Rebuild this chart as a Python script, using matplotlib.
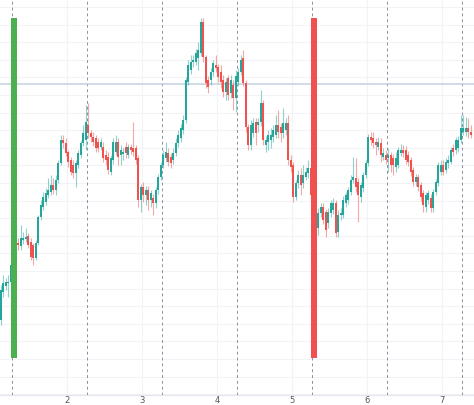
import numpy as np
import matplotlib
matplotlib.use("Agg")
import matplotlib.pyplot as plt

# candles, 30 per day, first one at day 1.12
start_day = 1.12
per_day = 30

opens = [80, 108, 114, 117, 118, 135, 153, 157, 154, 160, 161, 164, 158, 155, 142, 157, 183, 193, 198, 205,
         208, 215, 210, 220, 237, 260, 257, 248, 240, 235, 227, 235, 245, 257, 260, 275, 267, 263, 262, 258,
         253, 253, 245, 243, 228, 240, 248, 258, 245, 246, 253, 245, 253, 252, 252, 242, 200, 213, 205, 210,
         200, 202, 197, 210, 223, 235, 242, 247, 243, 240, 247, 257, 262, 270, 280, 318, 330, 338, 338, 342,
         347, 378, 343, 320, 320, 328, 335, 333, 328, 320, 308, 322, 307, 315, 302, 318, 328, 342, 317, 273,
         255, 267, 278, 275, 278, 297, 255, 258, 260, 263, 265, 275, 273, 267, 270, 277, 240, 235, 203, 217,
         225, 217, 223, 227, 232, 205, 177, 172, 187, 193, 188, 177, 187, 190, 197, 168, 185, 185, 197, 200,
         208, 220, 222, 218, 203, 212, 225, 237, 263, 262, 258, 253, 257, 243, 245, 242, 245, 242, 233, 235,
         247, 250, 250, 245, 240, 230, 218, 223, 215, 207, 193, 200, 202, 192, 208, 217, 228, 235, 230, 237,
         238, 252, 250, 252, 260, 268, 268, 272, 268]
closes = [110, 117, 118, 118, 135, 150, 165, 155, 162, 162, 163, 155, 143, 142, 157, 183, 195, 203, 207, 210,
          215, 210, 220, 237, 260, 257, 247, 238, 228, 227, 237, 247, 257, 267, 278, 267, 263, 258, 252, 252,
          258, 242, 240, 230, 242, 258, 258, 243, 250, 248, 247, 253, 250, 248, 240, 200, 213, 205, 210, 200,
          207, 197, 210, 223, 235, 245, 248, 238, 237, 247, 257, 265, 272, 280, 320, 335, 338, 340, 347, 350,
          378, 343, 317, 313, 328, 337, 332, 323, 318, 308, 318, 305, 320, 302, 324, 328, 340, 317, 273, 255,
          275, 277, 267, 278, 297, 260, 260, 265, 265, 270, 275, 268, 267, 277, 277, 240, 233, 203, 217, 225,
          215, 225, 228, 232, 205, 178, 172, 187, 193, 180, 170, 188, 197, 197, 167, 185, 187, 200, 205, 210,
          220, 223, 213, 205, 215, 225, 237, 263, 260, 257, 255, 258, 245, 247, 240, 245, 235, 235, 242, 250,
          250, 247, 240, 238, 228, 218, 223, 213, 203, 195, 205, 207, 192, 208, 218, 235, 235, 228, 238, 240,
          250, 248, 260, 260, 272, 272, 272, 268, 265]
highs = [115, 125, 122, 125, 138, 158, 175, 162, 175, 168, 172, 167, 162, 157, 160, 185, 200, 208, 212, 222,
         225, 222, 225, 240, 265, 265, 262, 250, 243, 240, 240, 250, 260, 275, 295, 297, 270, 268, 265, 262,
         262, 258, 250, 248, 245, 262, 265, 262, 255, 252, 258, 256, 256, 278, 255, 245, 216, 218, 214, 214,
         210, 206, 213, 226, 238, 250, 258, 252, 247, 252, 262, 270, 276, 285, 323, 340, 345, 345, 351, 358,
         382, 382, 345, 324, 332, 340, 345, 336, 335, 325, 322, 325, 325, 320, 330, 332, 345, 350, 320, 276,
         280, 282, 282, 282, 310, 300, 264, 270, 272, 275, 285, 290, 277, 292, 282, 285, 245, 238, 220, 230,
         232, 235, 233, 240, 235, 208, 182, 192, 197, 197, 191, 192, 200, 202, 200, 190, 192, 204, 208, 213,
         225, 243, 242, 222, 218, 228, 240, 266, 268, 268, 262, 263, 262, 252, 250, 252, 248, 246, 248, 253,
         256, 255, 254, 249, 243, 233, 226, 226, 218, 210, 208, 210, 206, 211, 221, 238, 240, 240, 242, 245,
         253, 256, 263, 264, 285, 285, 283, 282, 275]
lows = [75, 103, 110, 103, 115, 132, 150, 150, 150, 156, 158, 152, 140, 135, 140, 155, 180, 190, 195, 202,
        205, 206, 205, 217, 235, 252, 244, 233, 225, 222, 213, 232, 242, 254, 250, 262, 258, 254, 248, 248,
        250, 238, 235, 226, 225, 236, 245, 235, 235, 240, 242, 242, 246, 244, 236, 193, 188, 198, 195, 190,
        193, 185, 192, 206, 220, 232, 238, 234, 232, 236, 244, 253, 258, 266, 277, 315, 326, 333, 335, 330,
        344, 338, 312, 307, 315, 324, 328, 318, 312, 303, 300, 300, 302, 290, 288, 314, 325, 314, 268, 250,
        250, 263, 255, 268, 274, 255, 248, 250, 252, 258, 262, 262, 258, 262, 265, 235, 228, 198, 200, 212,
        205, 212, 220, 222, 200, 170, 163, 165, 183, 176, 163, 172, 183, 186, 163, 163, 180, 182, 193, 196,
        205, 217, 208, 178, 198, 208, 222, 234, 255, 252, 245, 250, 238, 240, 236, 228, 228, 225, 228, 232,
        244, 243, 236, 234, 224, 214, 214, 209, 199, 188, 188, 196, 188, 188, 205, 214, 225, 225, 227, 232,
        236, 244, 246, 248, 257, 265, 264, 262, 262]

day_ticks = [2, 3, 4, 5, 6, 7]
session_lines = [1.27, 2.27, 3.27, 4.27, 5.27, 6.27, 7.27]
price_level = 316
entry_day, entry_color = 1.27, "#4caf50"
exit_day, exit_color = 5.27, "#f0504f"
bar_bottom, bar_top = 42, 382

up_col, down_col = "#26a69a", "#ef5350"

o = np.array(opens, float)
c = np.array(closes, float)
h = np.array(highs, float)
l = np.array(lows, float)
t = start_day + np.arange(len(o)) / per_day
cols = np.where(c >= o, up_col, down_col)

fig = plt.figure(figsize=(4.74, 4.05), dpi=100)
ax = fig.add_axes([0, 10 / 405, 1, 395 / 405])

ax.set_xlim(1.107, 1.107 + 474 / 75)
ax.set_ylim(5, 400)

ax.set_yticks(np.arange(393, 0, -17.6))
ax.set_xticks(day_ticks)
ax.set_xticklabels([str(d) for d in day_ticks], fontsize=6, color="#555555")
ax.tick_params(axis="x", length=0, pad=1)
ax.tick_params(axis="y", length=0, labelleft=False)
ax.grid(color="#f1f3f6", linewidth=0.8, zorder=0)
ax.set_axisbelow(True)
for side in ["left", "right", "top"]:
    ax.spines[side].set_visible(False)
ax.spines["bottom"].set_color("#e3e6ec")

for d in session_lines:
    ax.axvline(d, color="#8a919e", linewidth=0.7, linestyle=(0, (3, 3)), zorder=1)
ax.axhline(price_level, color="#c3d1de", linewidth=1.1, zorder=1)

# candles
ax.vlines(t, l, h, colors=cols, linewidth=0.8, alpha=0.5, zorder=2)
body = np.maximum(np.abs(c - o), 1.2)
ax.bar(t, body, bottom=np.minimum(o, c), width=0.8 / per_day, color=cols, zorder=3)

# entry / exit markers
for d, col in [(entry_day, entry_color), (exit_day, exit_color)]:
    ax.bar(d + 0.018, bar_top - bar_bottom, bottom=bar_bottom, width=0.08, color=col, zorder=4)

fig.savefig("out.png", dpi=100)
